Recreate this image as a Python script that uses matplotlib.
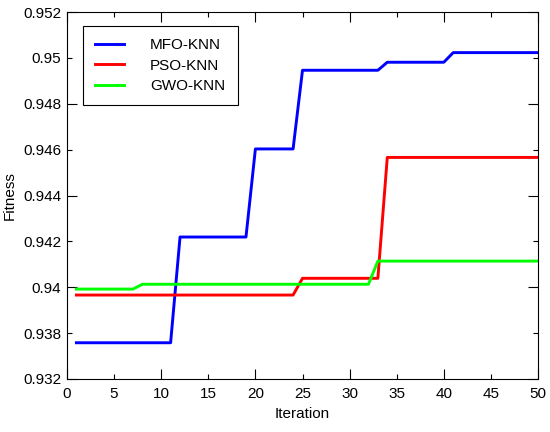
import numpy as np
import matplotlib
matplotlib.use("Agg")
import matplotlib.pyplot as plt
from matplotlib.ticker import MultipleLocator, FixedLocator, FixedFormatter

plt.rcParams['font.family'] = ['Liberation Sans', 'DejaVu Sans']

# iteration -> fitness, step curves
iters = np.arange(1, 51)

mfo_steps = [(1, 0.93758), (12, 0.94219), (20, 0.94603), (25, 0.94946),
             (34, 0.94981), (41, 0.95023)]
pso_steps = [(1, 0.93966), (25, 0.94039), (34, 0.94566)]
gwo_steps = [(1, 0.93992), (8, 0.94013), (33, 0.94114)]

y_ticks = [0.936, 0.938, 0.940, 0.942, 0.944, 0.946, 0.948, 0.950, 0.952]
y_labels = ['0.932', '0.938', '0.94', '0.942', '0.944', '0.946', '0.948', '0.95', '0.952']


def expand(steps):
    vals = np.zeros(len(iters))
    for start, v in steps:
        vals[iters >= start] = v
    return vals


mfo = expand(mfo_steps)
pso = expand(pso_steps)
gwo = expand(gwo_steps)

fig = plt.figure(figsize=(5.5, 4.32), dpi=100)
ax = fig.add_axes([0.1218, 0.1227, 0.8564, 0.8495])

ax.plot(iters, mfo, color=(0, 0, 1), lw=2.1, label='MFO-KNN')
ax.plot(iters, pso, color=(1, 0, 0), lw=2.1, label='PSO-KNN')
ax.plot(iters, gwo, color=(0, 1, 0), lw=2.1, label='GWO-KNN')

ax.set_xlim(0, 50)
ax.set_ylim(0.936, 0.952)

ax.xaxis.set_major_locator(MultipleLocator(10))
ax.xaxis.set_minor_locator(FixedLocator([5, 15, 25, 35, 45]))
ax.xaxis.set_minor_formatter(FixedFormatter(['5', '15', '25', '35', '45']))

ax.yaxis.set_major_locator(FixedLocator(y_ticks[::2]))
ax.yaxis.set_major_formatter(FixedFormatter(y_labels[::2]))
ax.yaxis.set_minor_locator(FixedLocator(y_ticks[1::2]))
ax.yaxis.set_minor_formatter(FixedFormatter(y_labels[1::2]))

ax.tick_params(which='both', direction='in', top=True, right=True,
               labelsize=11, width=0.8)
ax.tick_params(axis='y', which='both', pad=4)
ax.tick_params(axis='x', which='both', pad=6)
ax.tick_params(which='major', length=7)
ax.tick_params(which='minor', length=3.5)
for sp in ax.spines.values():
    sp.set_linewidth(0.8)

ax.set_xlabel('Iteration', fontsize=11)
ax.set_ylabel('Fitness', fontsize=11, labelpad=5)

leg = ax.legend(loc='upper left', bbox_to_anchor=(0.034, 0.962), borderaxespad=0,
                fontsize=11, fancybox=False, framealpha=1, edgecolor='black',
                handlelength=1.9, handletextpad=1.7, borderpad=0.8,
                labelspacing=0.42)
leg.get_frame().set_linewidth(0.8)

fig.savefig('out.png', dpi=100)
